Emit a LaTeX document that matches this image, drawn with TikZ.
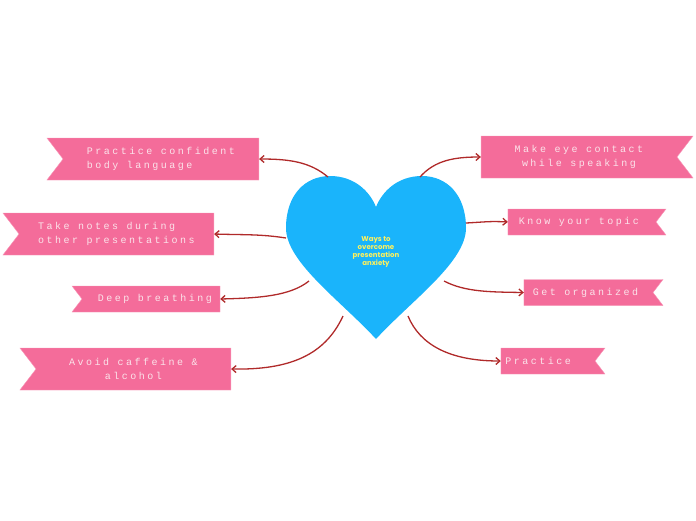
\documentclass[tikz,border=0pt]{standalone}
\usepackage{fontspec}
\newfontfamily\boxfont[LetterSpace=25]{Liberation Mono}
\newfontfamily\heartfont{Poppins}
\usetikzlibrary{shapes.symbols,arrows.meta}
\definecolor{pinkbox}{HTML}{F46C9A}
\definecolor{boxtext}{HTML}{FBE3EA}
\definecolor{heartblue}{HTML}{1AB4FB}
\definecolor{linkred}{HTML}{B02A2A}
\definecolor{htext}{HTML}{FFF15C}
\tikzset{
  topic/.style={signal, fill=pinkbox, draw=pinkbox!70!white, line width=0.4pt, inner sep=0pt,
    signal to=nowhere, signal pointer angle=105, text=boxtext,
    font=\boxfont\fontsize{10}{14}\selectfont},
  lefttopic/.style={topic, signal from=west, align=left},
  righttopic/.style={topic, signal from=east, align=center},
  link/.style={draw=linkred, line width=1.3pt, -{Straight Barb[length=4pt,width=7pt]}},
}
\begin{document}
\begin{tikzpicture}[x=1pt,y=-1pt]
\useasboundingbox (0,0) rectangle (696,520);
\fill[heartblue] (376,339) .. controls (340,300) and (286,262) .. (286,228)
  .. controls (286,195) and (305,176) .. (330,176)
  .. controls (355,176) and (370,192) .. (376,207)
  .. controls (382,192) and (397,176) .. (422,176)
  .. controls (447,176) and (466,195) .. (466,228)
  .. controls (466,262) and (412,300) .. (376,339) -- cycle;
\node[font=\heartfont\bfseries\fontsize{7}{8}\selectfont, text=htext, align=center] (center) at (376,252) {Ways to\\overcome\\presentation\\anxiety};
\coordinate (h1) at (328,177);
\coordinate (h2) at (286,238);
\coordinate (h3) at (309,281);
\coordinate (h4) at (343,316);
\coordinate (h5) at (420,177);
\coordinate (h6) at (466,223);
\coordinate (h7) at (444,281);
\coordinate (h8) at (408,316);
\node[lefttopic, minimum width=212, minimum height=42] (t1) at (161,159) {Practice confident\\body language};
\node[lefttopic, minimum width=211, minimum height=42] (t2) at (116.5,234) {Take notes during\\other presentations};
\node[lefttopic, minimum width=148, minimum height=26] (t3) at (151,299) {\hspace{8pt}Deep breathing};
\node[lefttopic, minimum width=211, minimum height=42, align=center] (t4) at (133.5,369) {Avoid caffeine \&\\alcohol};
\node[righttopic, minimum width=212, minimum height=42] (t5) at (579,157) {Make eye contact\\while speaking};
\node[righttopic, minimum width=158, minimum height=26] (t6) at (582,222) {Know your topic\hspace{6pt}};
\node[righttopic, minimum width=139, minimum height=26] (t7) at (588.5,292.5) {Get organized\hspace{6pt}};
\node[righttopic, minimum width=104, minimum height=26] (t8) at (548,361) {Practice\hspace{20pt}};
\draw[link] (h1) .. controls (310,162) and (290,159) .. (t1.east);
\draw[link] (h2) .. controls (260,234) and (245,235) .. (t2.east);
\draw[link] (h3) .. controls (290,296) and (260,298) .. (t3.east);
\draw[link] (h4) .. controls (325,355) and (290,370) .. (t4.east);
\draw[link] (h5) .. controls (435,160) and (455,157) .. (t5.west);
\draw[link] (h6) .. controls (485,222) and (490,221) .. (t6.west);
\draw[link] (h7) .. controls (465,292) and (490,292) .. (t7.west);
\draw[link] (h8) .. controls (420,345) and (450,361) .. (t8.west);
\end{tikzpicture}
\end{document}
